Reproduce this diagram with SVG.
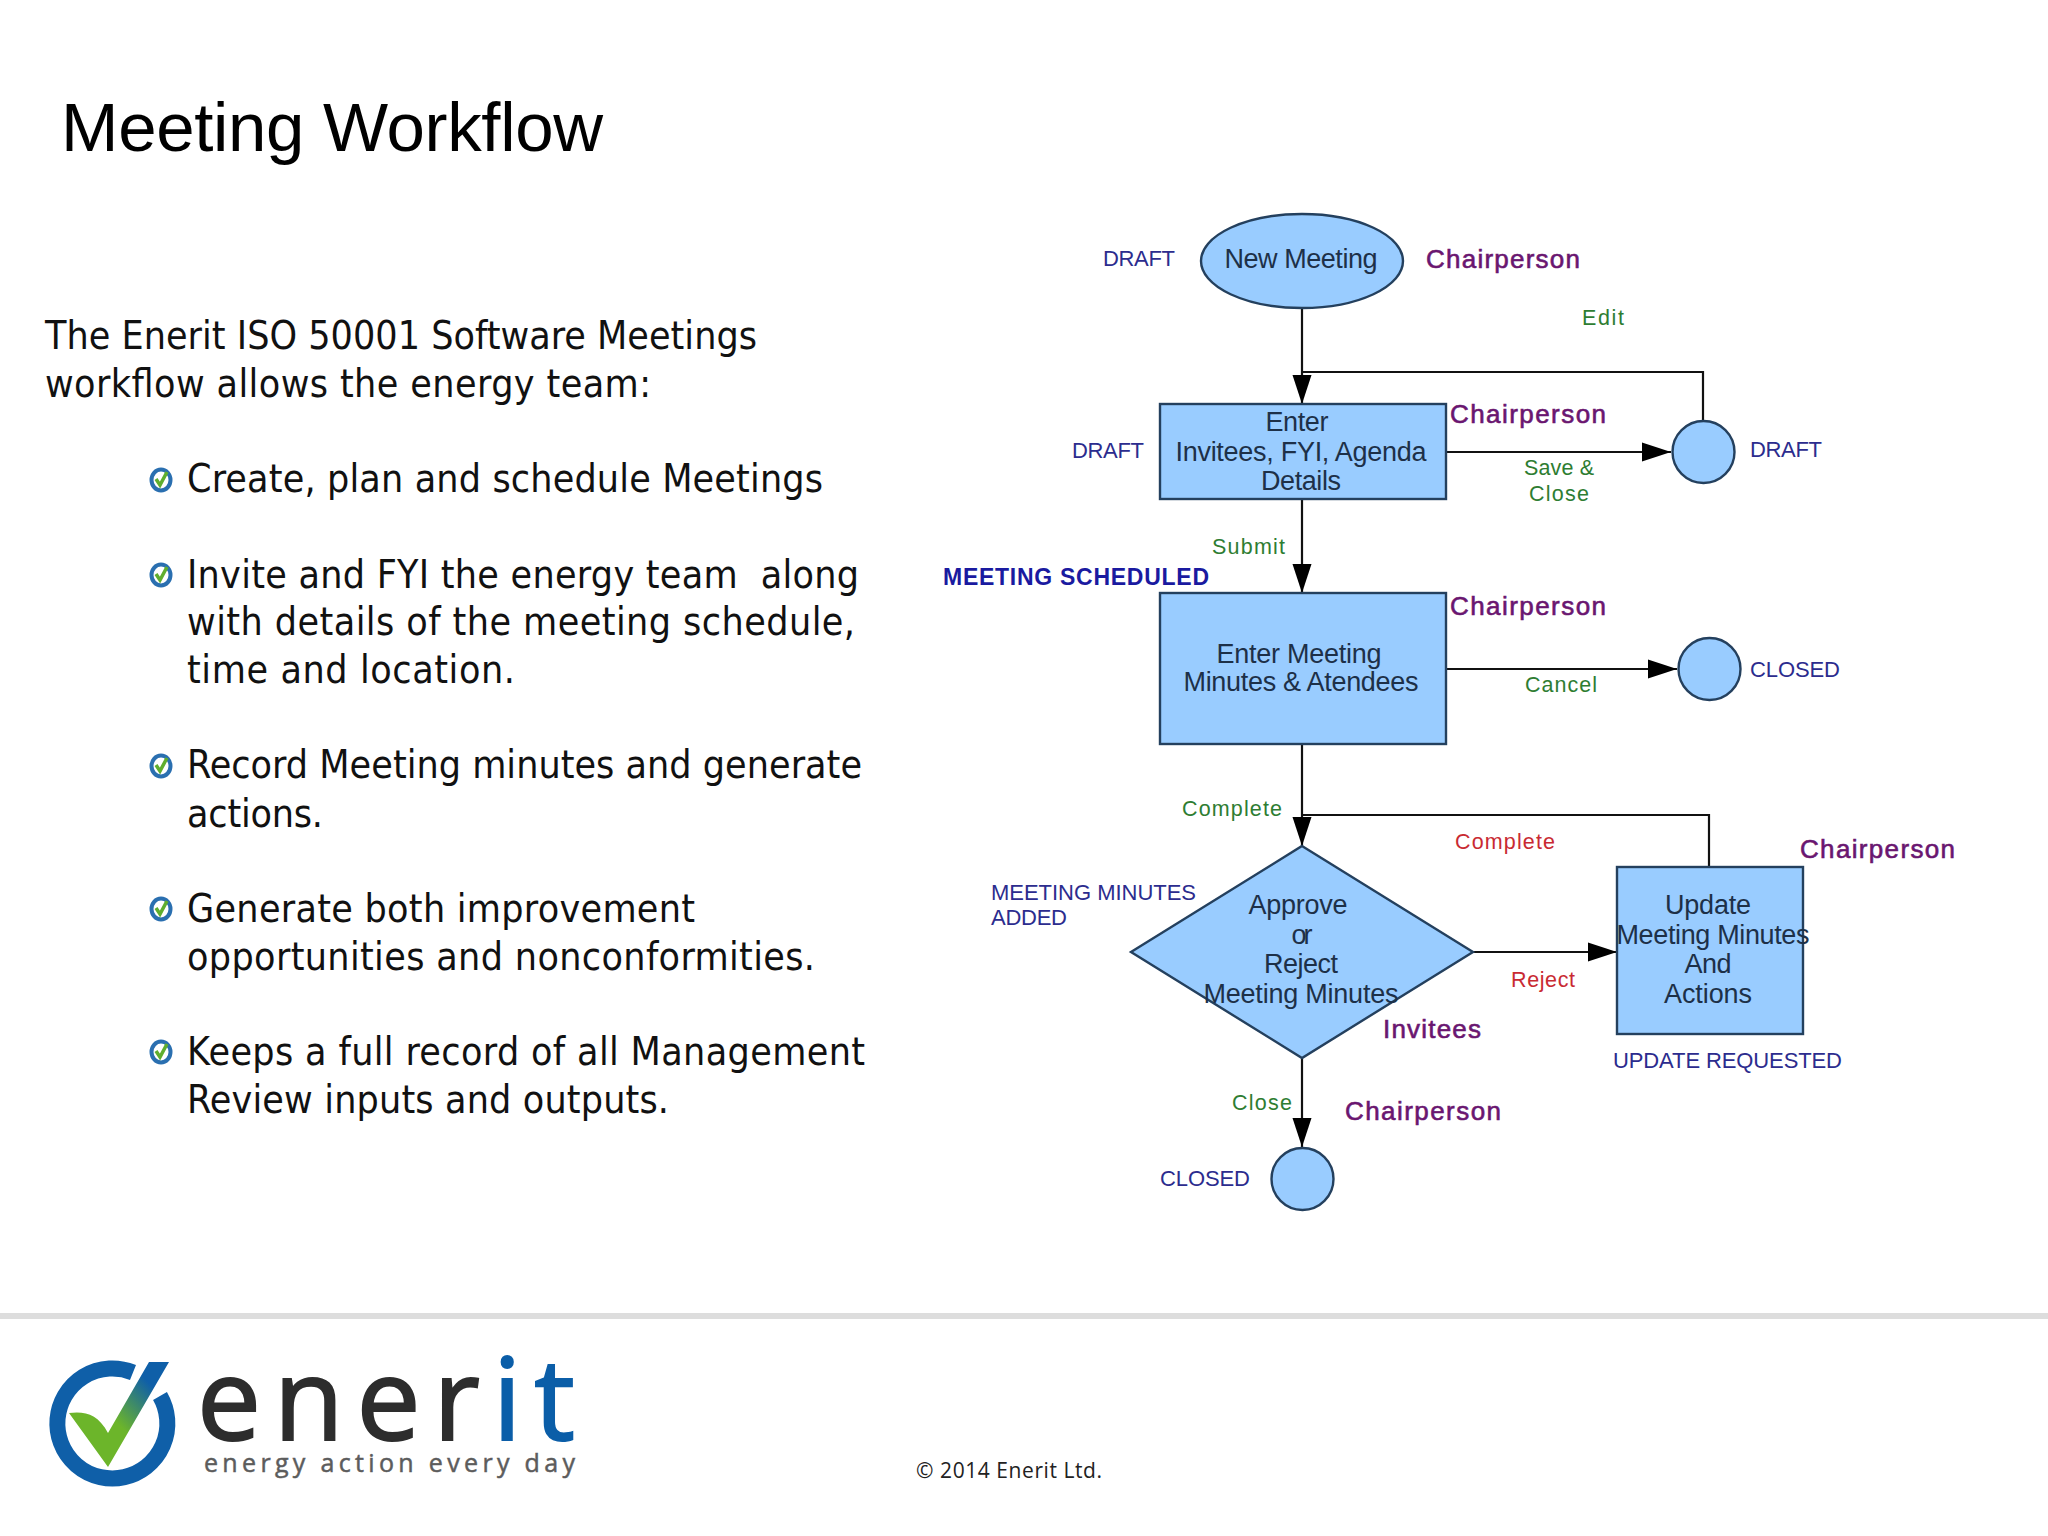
<svg xmlns="http://www.w3.org/2000/svg" xmlns:xlink="http://www.w3.org/1999/xlink" width="2048" height="1536" viewBox="0 0 2048 1536">
<style>
text{font-family:"Liberation Sans",Arial,sans-serif}
.body{font-family:"DejaVu Sans","Noto Sans",sans-serif;font-stretch:condensed;font-size:39px;fill:#111;white-space:pre}
.shape{fill:#99ccff;stroke:#24405e;stroke-width:2.4}
.n{font-size:27px;fill:#1d3048;text-anchor:middle}
.st{font-size:22px;fill:#2c2c8e}
.ro{font-size:26px;fill:#6a1670;stroke:#6a1670;stroke-width:.6}
.g{font-size:21.5px;fill:#2e7d32}
.r{font-size:21.5px;fill:#c92a32}
.c{fill:none;stroke:#111;stroke-width:2.2}
.lg{font-family:"Open Sans",sans-serif}
</style>
<defs>
<marker id="ah" markerUnits="userSpaceOnUse" markerWidth="31" markerHeight="21" refX="29" refY="10" orient="auto"><path d="M0 0.500L29 10L0 19.500Z" fill="#000"/></marker>
<linearGradient id="chk" x1="0" y1="1" x2="1" y2="0"><stop offset=".45" stop-color="#6cb52a"/><stop offset=".8" stop-color="#0f5fa8"/></linearGradient>
<g id="bul"><ellipse rx="9.500" ry="10.500" fill="#fff" stroke="#2a6fb0" stroke-width="4"/><path d="M-5 -1L-1 5L6 -8" fill="none" stroke="#5fae2e" stroke-width="3.500"/></g>
</defs>
<rect width="2048" height="1536" fill="#fff"/>
<text x="61" y="151" font-size="69" fill="#000" textLength="542">Meeting Workflow</text>
<g id="body-text">
<text class="body" x="45" y="349" textLength="712">The Enerit ISO 50001 Software Meetings</text>
<text class="body" x="45" y="397" textLength="606">workflow allows the energy team:</text>
<use xlink:href="#bul" x="161" y="480"/>
<text class="body" x="187" y="492" textLength="636">Create, plan and schedule Meetings</text>
<use xlink:href="#bul" x="161" y="575"/>
<text class="body" x="187" y="588" textLength="672" xml:space="preserve">Invite and FYI the energy team  along</text>
<text class="body" x="187" y="635" textLength="668">with details of the meeting schedule,</text>
<text class="body" x="187" y="683" textLength="328">time and location.</text>
<use xlink:href="#bul" x="161" y="766"/>
<text class="body" x="187" y="778" textLength="675">Record Meeting minutes and generate</text>
<text class="body" x="187" y="827" textLength="136">actions.</text>
<use xlink:href="#bul" x="161" y="909"/>
<text class="body" x="187" y="922" textLength="508">Generate both improvement</text>
<text class="body" x="187" y="970" textLength="628">opportunities and nonconformities.</text>
<use xlink:href="#bul" x="161" y="1052"/>
<text class="body" x="187" y="1065" textLength="678">Keeps a full record of all Management</text>
<text class="body" x="187" y="1113" textLength="482">Review inputs and outputs.</text>
</g>
<g id="connectors">
<path class="c" d="M1302 308V404" marker-end="url(#ah)"/>
<path class="c" d="M1703 420V372H1302"/>
<path class="c" d="M1446 452H1671" marker-end="url(#ah)"/>
<path class="c" d="M1302 499V593" marker-end="url(#ah)"/>
<path class="c" d="M1446 669H1677" marker-end="url(#ah)"/>
<path class="c" d="M1302 745V846" marker-end="url(#ah)"/>
<path class="c" d="M1709 867V815H1302"/>
<path class="c" d="M1473 952H1617" marker-end="url(#ah)"/>
<path class="c" d="M1302 1058V1147" marker-end="url(#ah)"/>
</g>
<g id="new-meeting"><ellipse class="shape" cx="1302" cy="261" rx="101" ry="47"/><text class="n" x="1301" y="268" textLength="153">New Meeting</text></g>
<g id="enter-invitees"><rect class="shape" x="1160" y="404" width="286" height="95"/>
<text class="n" x="1297" y="431" textLength="63">Enter</text><text class="n" x="1301" y="461" textLength="251">Invitees, FYI, Agenda</text><text class="n" x="1301" y="490" textLength="80">Details</text></g>
<g id="enter-minutes"><rect class="shape" x="1160" y="593" width="286" height="151"/>
<text class="n" x="1299" y="663" textLength="165">Enter Meeting</text><text class="n" x="1301" y="691" textLength="235">Minutes &amp; Atendees</text></g>
<g id="approve"><path class="shape" d="M1302 846L1473 952L1302 1058L1131 952Z"/>
<text class="n" x="1298" y="914" textLength="99">Approve</text><text class="n" x="1302" y="944" textLength="21">or</text><text class="n" x="1301" y="973" textLength="74">Reject</text><text class="n" x="1301" y="1003" textLength="195">Meeting Minutes</text></g>
<g id="update"><rect class="shape" x="1617" y="867" width="186" height="167"/>
<text class="n" x="1708" y="914" textLength="86">Update</text><text class="n" x="1713" y="944" textLength="193">Meeting Minutes</text><text class="n" x="1708" y="973" textLength="47">And</text><text class="n" x="1708" y="1003" textLength="88">Actions</text></g>
<g id="end-draft"><circle class="shape" cx="1703.500" cy="452" r="31"/></g>
<g id="end-cancel"><circle class="shape" cx="1709.500" cy="669" r="31"/></g>
<g id="end-closed"><circle class="shape" cx="1302.500" cy="1179" r="31"/></g>
<g id="labels">
<text class="st" x="1103" y="266" textLength="72">DRAFT</text>
<text class="st" x="1072" y="458" textLength="72">DRAFT</text>
<text class="st" x="1750" y="457" textLength="72">DRAFT</text>
<text class="st" x="943" y="585" textLength="266" font-weight="bold" style="fill:#1a1aa0;font-size:23px">MEETING SCHEDULED</text>
<text class="st" x="1750" y="677" textLength="90">CLOSED</text>
<text class="st" x="991" y="900" textLength="205">MEETING MINUTES</text>
<text class="st" x="991" y="925" textLength="76">ADDED</text>
<text class="st" x="1613" y="1068" textLength="229">UPDATE REQUESTED</text>
<text class="st" x="1160" y="1186" textLength="90">CLOSED</text>
<text class="ro" x="1426" y="268" textLength="154">Chairperson</text>
<text class="ro" x="1450" y="423" textLength="156">Chairperson</text>
<text class="ro" x="1450" y="615" textLength="156">Chairperson</text>
<text class="ro" x="1800" y="858" textLength="155">Chairperson</text>
<text class="ro" x="1383" y="1038" textLength="98">Invitees</text>
<text class="ro" x="1345" y="1120" textLength="156">Chairperson</text>
<text class="g" x="1582" y="325" textLength="42">Edit</text>
<text class="g" x="1524" y="475" textLength="70">Save &amp;</text>
<text class="g" x="1529" y="501" textLength="60">Close</text>
<text class="g" x="1212" y="554" textLength="73">Submit</text>
<text class="g" x="1525" y="692" textLength="72">Cancel</text>
<text class="g" x="1182" y="816" textLength="100">Complete</text>
<text class="g" x="1232" y="1110" textLength="60">Close</text>
<text class="r" x="1455" y="849" textLength="100">Complete</text>
<text class="r" x="1511" y="987" textLength="64">Reject</text>
</g>
<g id="footer">
<rect y="1313" width="2048" height="6" fill="#dddddd"/>
<path d="M133 1372.500A55 55 0 1 0 160 1396" fill="none" stroke="#0f5fa8" stroke-width="16"/>
<path d="M69 1413C85 1411 98 1414 108 1433L149 1362H169L108 1467Z" fill="url(#chk)"/>
<text class="lg" x="197" y="1440" font-size="114" fill="#2d2d2d" stroke="#2d2d2d" stroke-width="2" textLength="378">ener<tspan fill="#0b5ea8" stroke="#0b5ea8">it</tspan></text>
<text class="lg" x="204" y="1472" font-size="25" fill="#5c5c5c" stroke="#5c5c5c" stroke-width=".5" textLength="371">energy action every day</text>
<text class="lg" x="916" y="1478" font-size="21" fill="#222" textLength="186">© 2014 Enerit Ltd.</text>
</g>
</svg>
